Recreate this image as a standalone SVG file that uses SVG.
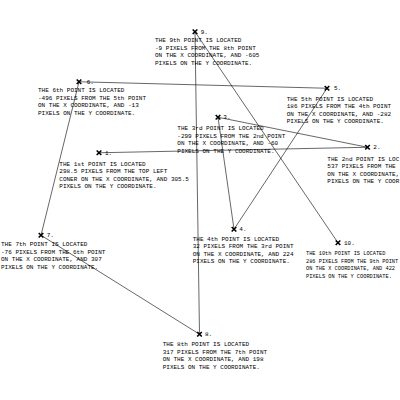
<svg xmlns="http://www.w3.org/2000/svg" width="400" height="400" viewBox="0 0 400 400">
<style>
text{font-family:"Liberation Mono","DejaVu Sans Mono",monospace;font-size:6px;fill:#000}
.sm{font-size:5.3px}
.mk{stroke:#000;stroke-width:1.6;fill:none}
.ln{stroke:#000;stroke-width:0.6;fill:none}
</style>
<defs>
<path id="x" class="mk" d="M-2.3,-2.3L2.3,2.3M-2.3,2.3L2.3,-2.3"/>
</defs>
<rect width="400" height="400" fill="#fff"/>
<g id="connectors">
<polyline class="ln" points="99,152.75 367.5,147.25 218,117.25 234,229.25 327,88.25 79,81.75 41,235.25 199.5,334.25 195,31.75 338,242.75"/>
</g>
<g id="p1"><use href="#x" x="99" y="152.75"/><text x="105" y="154.8">1.</text>
<text x="59.3" y="165.7">THE 1st POINT IS LOCATED<tspan x="59.3" dy="7.5">298.5 PIXELS FROM THE TOP LEFT</tspan><tspan x="59.3" dy="7.5">CONER ON THE X COORDINATE, AND 305.5</tspan><tspan x="59.3" dy="7.5">PIXELS ON THE Y COORDINATE.</tspan></text></g>
<g id="p2"><use href="#x" x="367.5" y="147.25"/><text x="373.3" y="149.3">2.</text>
<text x="327.3" y="160.7">THE 2nd POINT IS LOC<tspan x="327.3" dy="7.5">537 PIXELS FROM THE</tspan><tspan x="327.3" dy="7.5">ON THE X COORDINATE,</tspan><tspan x="327.3" dy="7.5">PIXELS ON THE Y COOR</tspan></text></g>
<g id="p3"><use href="#x" x="218" y="117.25"/><text x="223.3" y="119.3">3.</text>
<text x="177.3" y="130">THE 3rd POINT IS LOCATED<tspan x="177.3" dy="7.5">-299 PIXELS FROM THE 2nd POINT</tspan><tspan x="177.3" dy="7.5">ON THE X COORDINATE, AND -60</tspan><tspan x="177.3" dy="7.5">PIXELS ON THE Y COORDINATE.</tspan></text></g>
<g id="p4"><use href="#x" x="234" y="229.25"/><text x="239.3" y="231.3">4.</text>
<text x="192.7" y="241">THE 4th POINT IS LOCATED<tspan x="192.7" dy="7.3">32 PIXELS FROM THE 3rd POINT</tspan><tspan x="192.7" dy="7.3">ON THE X COORDINATE, AND 224</tspan><tspan x="192.7" dy="7.3">PIXELS ON THE Y COORDINATE.</tspan></text></g>
<g id="p5"><use href="#x" x="327" y="88.25"/><text x="334" y="90.3">5.</text>
<text x="286.7" y="100.7">THE 5th POINT IS LOCATED<tspan x="286.7" dy="7.5">186 PIXELS FROM THE 4th POINT</tspan><tspan x="286.7" dy="7.5">ON THE X COORDINATE, AND -282</tspan><tspan x="286.7" dy="7.5">PIXELS ON THE Y COORDINATE.</tspan></text></g>
<g id="p6"><use href="#x" x="79" y="81.75"/><text x="86.7" y="83.8">6.</text>
<text x="38" y="92.4">THE 6th POINT IS LOCATED<tspan x="38" dy="7.5">-496 PIXELS FROM THE 5th POINT</tspan><tspan x="38" dy="7.5">ON THE X COORDINATE, AND -13</tspan><tspan x="38" dy="7.5">PIXELS ON THE Y COORDINATE.</tspan></text></g>
<g id="p7"><use href="#x" x="41" y="235.25"/><text x="46.7" y="237.3">7.</text>
<text x="1" y="246">THE 7th POINT IS LOCATED<tspan x="1" dy="7.5">-76 PIXELS FROM THE 6th POINT</tspan><tspan x="1" dy="7.5">ON THE X COORDINATE, AND 307</tspan><tspan x="1" dy="7.5">PIXELS ON THE Y COORDINATE.</tspan></text></g>
<g id="p8"><use href="#x" x="199.5" y="334.25"/><text x="205" y="336.3">8.</text>
<text x="162.7" y="346">THE 8th POINT IS LOCATED<tspan x="162.7" dy="7.5">317 PIXELS FROM THE 7th POINT</tspan><tspan x="162.7" dy="7.5">ON THE X COORDINATE, AND 198</tspan><tspan x="162.7" dy="7.5">PIXELS ON THE Y COORDINATE.</tspan></text></g>
<g id="p9"><use href="#x" x="195" y="31.75"/><text x="200.7" y="33.8">9.</text>
<text x="155" y="42.4">THE 9th POINT IS LOCATED<tspan x="155" dy="7.5">-9 PIXELS FROM THE 8th POINT</tspan><tspan x="155" dy="7.5">ON THE X COORDINATE, AND -605</tspan><tspan x="155" dy="7.5">PIXELS ON THE Y COORDINATE.</tspan></text></g>
<g id="p10"><use href="#x" x="338" y="242.75"/><text x="344" y="244.8">10.</text>
<text class="sm" x="306" y="255">THE 10th POINT IS LOCATED<tspan x="306" dy="7.5">286 PIXELS FROM THE 9th POINT</tspan><tspan x="306" dy="7.5">ON THE X COORDINATE, AND 422</tspan><tspan x="306" dy="7.5">PIXELS ON THE Y COORDINATE.</tspan></text></g>
</svg>
